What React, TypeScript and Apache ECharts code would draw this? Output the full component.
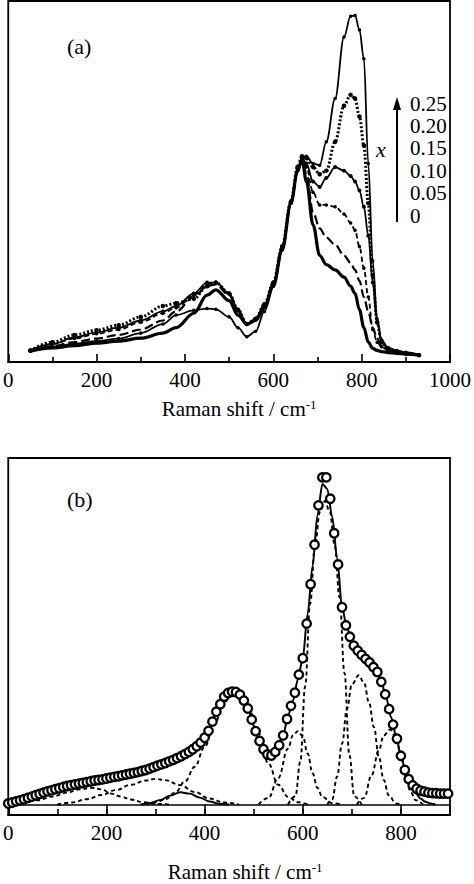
import React, { useEffect, useRef } from "react";
import * as echarts from "echarts";

// ---------- Panel (a): Raman spectra for several x ----------
const shiftA = [50, 100, 150, 200, 250, 300, 350, 380, 420, 450, 470, 500, 520, 540, 560, 580, 600, 620, 640, 655, 665, 675, 690, 705, 720, 740, 760, 775, 785, 795, 805, 815, 825, 835, 845, 860, 880, 900, 930];
const specX000 = [3.0, 3.9, 4.5, 5.2, 5.8, 6.6, 8.0, 9.5, 13.5, 18.5, 20.0, 17.0, 13.0, 10.5, 11.5, 15.0, 21.0, 31.0, 44.0, 53.0, 56.0, 50.0, 38.0, 29.5, 27.0, 25.5, 23.5, 21.0, 19.0, 14.5, 9.5, 5.5, 3.8, 3.2, 2.9, 2.6, 2.4, 2.2, 1.9];
const specX005 = [3.0, 4.4, 5.5, 6.5, 7.5, 9.0, 11.5, 14.0, 18.0, 21.0, 21.5, 18.5, 14.0, 10.5, 11.5, 15.0, 21.0, 31.0, 44.0, 53.0, 56.0, 52.0, 41.5, 37.0, 34.5, 32.5, 29.5, 27.5, 25.5, 22.5, 18.0, 14.0, 9.5, 6.5, 4.5, 3.3, 2.7, 2.3, 1.9];
const specX010 = [3.2, 5.0, 6.5, 7.8, 9.0, 11.0, 13.5, 15.0, 18.5, 21.5, 22.0, 19.0, 14.5, 10.5, 11.8, 15.5, 21.5, 31.5, 44.0, 53.0, 56.0, 54.0, 47.0, 43.5, 43.5, 43.0, 41.0, 38.5, 36.5, 32.0, 26.0, 18.0, 9.0, 5.5, 4.2, 3.3, 2.7, 2.3, 1.9];
const specX015 = [3.2, 5.0, 6.8, 8.2, 9.5, 11.5, 14.0, 15.5, 19.0, 22.0, 22.0, 19.0, 14.5, 10.5, 12.0, 16.0, 22.0, 32.0, 44.5, 53.5, 56.5, 55.0, 50.0, 48.5, 51.0, 54.0, 53.0, 51.5, 50.0, 47.5, 43.0, 35.0, 22.0, 11.0, 6.0, 3.4, 2.7, 2.3, 1.9];
const specX020 = [3.2, 5.5, 7.5, 8.8, 10.2, 12.5, 15.5, 16.3, 17.5, 21.0, 22.0, 19.0, 14.5, 10.5, 12.0, 16.0, 22.0, 32.0, 44.5, 54.0, 57.0, 56.5, 54.0, 52.0, 53.0, 61.0, 71.0, 74.0, 73.0, 68.0, 60.0, 44.0, 24.0, 11.0, 5.5, 3.6, 2.8, 2.4, 1.9];
const specX025 = [3.0, 4.2, 5.0, 5.8, 6.5, 8.0, 10.5, 13.0, 14.3, 14.8, 14.6, 12.5, 9.5, 7.0, 8.5, 14.0, 21.0, 31.0, 44.0, 53.0, 56.5, 57.0, 55.0, 54.5, 61.0, 73.0, 90.0, 95.8, 96.0, 92.0, 84.0, 55.0, 28.0, 12.0, 6.0, 4.0, 3.2, 2.7, 2.0];
const legendLabels = ["0.25", "0.20", "0.15", "0.10", "0.05", "0"];
const ticksA = [0, 200, 400, 600, 800, 1000];

// ---------- Panel (b): measured spectrum + fitted components ----------
const shiftB = [
  0, 8, 16, 24, 32, 40, 48, 56, 64, 72,
  80, 88, 96, 104, 112, 120, 128, 136, 144, 152,
  160, 168, 176, 184, 192, 200, 208, 216, 224, 232,
  240, 248, 256, 264, 272, 280, 288, 296, 304, 312,
  320, 328, 336, 344, 352, 360, 368, 376, 384, 392,
  400, 408, 416, 424, 432, 440, 448, 456, 464, 472,
  480, 488, 496, 504, 512, 520, 528, 536, 544, 552,
  560, 568, 576, 584, 592, 600, 608, 616, 624, 632,
  640, 648, 656, 664, 672, 680, 688, 696, 704, 712,
  720, 728, 736, 744, 752, 760, 768, 776, 784, 792,
  800, 808, 816, 824, 832, 840, 848, 856, 864, 872,
  880, 888, 896,
];
const measured = [
  0.3, 0.6, 0.95, 1.25, 1.6, 2.0, 2.4, 2.8, 3.2, 3.6,
  4.0, 4.3, 4.65, 4.95, 5.3, 5.6, 5.85, 6.1, 6.35, 6.55,
  6.8, 7.05, 7.3, 7.45, 7.65, 7.9, 8.15, 8.4, 8.6, 8.85,
  9.1, 9.35, 9.6, 9.85, 10.2, 10.5, 10.9, 11.35, 11.8, 12.2,
  12.6, 13.1, 13.55, 14.1, 14.65, 15.3, 16.0, 16.8, 17.7, 18.8,
  20.3, 22.4, 25.2, 28.2, 30.5, 32.8, 33.9, 34.3, 34.2, 33.4,
  31.6, 29.2, 25.8, 22.3, 19.3, 16.8, 15.2, 14.9, 16.0, 18.0,
  21.0, 26.0, 30.0, 34.0, 39.5, 44.5, 55.0, 67.0, 79.0, 91.0,
  99.5, 99.5, 93.0, 82.5, 73.0, 60.0, 54.5, 51.0, 48.3, 46.8,
  45.5, 44.3, 43.2, 41.8, 40.3, 37.3, 33.5, 29.0, 24.3, 20.0,
  14.8, 10.5, 7.7, 5.8, 4.8, 4.2, 3.9, 3.6, 3.45, 3.4,
  3.3, 3.3, 3.3,
];
const fitShift = [0, 10, 20, 30, 40, 50, 60, 70, 80, 90, 100, 110, 120, 130, 140, 150, 160, 170, 180, 190, 200, 210, 220, 230, 240, 250, 260, 270, 280, 290, 300, 310, 320, 330, 340, 350, 360, 370, 380, 390, 400, 410, 420, 430, 440, 450, 460, 470, 480, 490, 500, 510, 520, 530, 540, 550, 560, 570, 580, 590, 600, 610, 620, 630, 640, 650, 660, 670, 680, 690, 700, 710, 720, 730, 740, 750, 760, 770, 780, 790, 800, 810, 820, 830, 840, 850, 860, 870];
const fitted = [0.3, 0.7, 1.1, 1.5, 2.0, 2.5, 3.0, 3.5, 4.0, 4.4, 4.8, 5.2, 5.6, 5.9, 6.2, 6.5, 6.8, 7.1, 7.4, 7.6, 7.9, 8.2, 8.5, 8.8, 9.1, 9.4, 9.7, 10.1, 10.5, 11.0, 11.6, 12.1, 12.6, 13.2, 13.8, 14.5, 15.3, 16.2, 17.2, 18.5, 20.3, 23.0, 26.8, 30.0, 32.8, 34.1, 34.3, 33.6, 31.6, 28.5, 24.0, 20.0, 16.8, 14.9, 15.4, 17.4, 21.0, 27.0, 31.5, 38.0, 44.5, 58.0, 72.5, 88.0, 97.5, 96.0, 87.5, 75.0, 60.0, 53.8, 49.5, 47.0, 45.5, 44.0, 42.5, 40.8, 37.3, 32.5, 26.5, 21.0, 14.8, 9.8, 5.6, 3.4, 1.8, 0.8, 0.3, 0];
const compAX = [0, 30, 60, 90, 120, 145, 170, 190, 210, 230, 250, 275, 300, 330];
const compAY = [0.2, 0.6, 1.3, 2.4, 3.6, 4.6, 5.1, 4.6, 3.3, 2.4, 1.5, 0.7, 0.2, 0];
const compBX = [100, 130, 160, 190, 220, 250, 280, 300, 320, 350, 380, 410, 440, 470];
const compBY = [0, 0.6, 1.6, 2.9, 4.4, 6.0, 7.3, 7.8, 7.4, 5.9, 3.8, 1.8, 0.6, 0];
const compCX = [270, 290, 310, 330, 350, 370, 390, 410, 430, 450];
const compCY = [0, 0.5, 1.4, 2.7, 3.7, 3.3, 2.1, 0.9, 0.2, 0];
const compDX = [280, 300, 320, 340, 360, 380, 400, 420, 440, 455, 470, 490, 510, 530, 550, 570, 590, 610];
const compDY = [0.1, 0.6, 1.6, 3.6, 7.0, 11.5, 17.5, 24.5, 31.0, 34.0, 33.6, 29.0, 21.5, 12.5, 6.0, 2.3, 0.7, 0];
const compEX = [510, 530, 550, 570, 580, 590, 600, 610, 620, 630, 640, 660, 680];
const compEY = [0, 2, 8, 17, 21, 22.3, 20.8, 15.5, 9.5, 5, 2.3, 0.4, 0];
const compFX = [570, 585, 595, 605, 615, 625, 635, 645, 655, 665, 675, 685, 695, 705, 720];
const compFY = [0, 2.5, 13, 36, 61, 79, 89, 92.3, 89, 79, 63, 40, 15, 2.5, 0];
const compGX = [650, 660, 670, 680, 690, 700, 714, 725, 735, 745, 755, 765, 775, 790, 800];
const compGY = [0, 1.5, 8.5, 18.5, 29, 36.5, 39.3, 37, 31, 23.5, 14.5, 7.5, 2.8, 0.3, 0];
const compHX = [710, 725, 740, 755, 765, 778, 790, 800, 810, 820, 830, 845];
const compHY = [0, 2, 8.8, 16.5, 21, 22.8, 20.5, 14.5, 8.5, 3.8, 1.3, 0];

const FONT = "Liberation Serif";

const pairs = (xs: number[], ys: number[]) => ys.map((y, i) => [xs[i], y]);

export default function App() {
  const ref = useRef<HTMLDivElement>(null);
  useEffect(() => {
    if (!ref.current) return;
    const chart = echarts.init(ref.current, undefined, { renderer: "svg" });

    const axisName = {
      fontFamily: FONT,
      fontSize: 21,
      color: "#000",
      lineHeight: 22,
      rich: {
        sup: { fontFamily: FONT, fontSize: 13, color: "#000", verticalAlign: "top", lineHeight: 14 },
      },
    };
    const labelStyle = { fontFamily: FONT, fontSize: 21, color: "#000", margin: 7 };
    const axisLine = { show: true, onZero: false, lineStyle: { color: "#000", width: 1.8 } };

    const topLine = (name: string, data: number[], lineStyle: any, symbolSize: number) => ({
      type: "line",
      name,
      xAxisIndex: 0,
      yAxisIndex: 0,
      data: pairs(shiftA, data),
      smooth: 0.35,
      smoothMonotone: "x",
      showSymbol: symbolSize > 0,
      symbol: "circle",
      symbolSize: symbolSize || 1,
      itemStyle: { color: "#000" },
      lineStyle: { color: "#000", ...lineStyle },
    });

    const comp = (name: string, xs: number[], ys: number[], solid = false) => ({
      type: "line",
      name,
      xAxisIndex: 1,
      yAxisIndex: 1,
      data: pairs(xs, ys),
      smooth: 0.4,
      smoothMonotone: "x",
      showSymbol: false,
      lineStyle: { color: "#000", width: 1.9, type: solid ? "solid" : [4, 3] },
    });

    const legendGraphics: any[] = legendLabels.map((t, i) => ({
      type: "text",
      left: 410,
      top: 93 + i * 22.4,
      style: { text: t, fontFamily: FONT, fontSize: 21, fill: "#000" },
    }));

    chart.setOption({
      animation: false,
      backgroundColor: "#fff",
      grid: [
        { left: 7, top: 1, width: 443, height: 361, show: true, borderColor: "#000", borderWidth: 1.8, backgroundColor: "transparent" },
        { left: 7, top: 458, width: 443, height: 362, show: true, borderColor: "#000", borderWidth: 1.8, backgroundColor: "transparent" },
      ],
      xAxis: [
        {
          type: "value",
          gridIndex: 0,
          min: ticksA[0],
          max: ticksA[ticksA.length - 1],
          interval: 200,
          axisLine,
          axisTick: { show: true, inside: true, length: 8, lineStyle: { color: "#000", width: 1.6 } },
          minorTick: { show: true, splitNumber: 2, length: 5, lineStyle: { color: "#000", width: 1.6 } },
          splitLine: { show: false },
          axisLabel: { ...labelStyle, formatter: (v: number) => String(v) },
          name: "Raman shift / cm{sup|-1}",
          nameLocation: "middle",
          nameGap: 36,
          nameTextStyle: { ...axisName, padding: [0, 0, 0, 20] },
        },
        {
          type: "value",
          gridIndex: 1,
          min: 0,
          max: 900,
          interval: 100,
          axisLine,
          axisTick: { show: true, inside: true, length: 6, lineStyle: { color: "#000", width: 1.6 } },
          splitLine: { show: false },
          axisLabel: { ...labelStyle, formatter: (v: number) => (v % 200 === 0 && v < 900 ? String(v) : "") },
          name: "Raman shift / cm{sup|-1}",
          nameLocation: "middle",
          nameGap: 46,
          nameTextStyle: { ...axisName, padding: [0, 0, 0, 32] },
        },
        {
          type: "value",
          gridIndex: 1,
          min: 0,
          max: 900,
          interval: 200,
          axisLine: { show: false },
          axisTick: { show: true, inside: true, length: 9, lineStyle: { color: "#000", width: 1.6 } },
          splitLine: { show: false },
          axisLabel: { show: false },
        },
      ],
      yAxis: [
        { type: "value", gridIndex: 0, min: 0, max: 100, show: false, splitLine: { show: false } },
        { type: "value", gridIndex: 1, min: -3.2, max: 105.4, show: false, splitLine: { show: false } },
      ],
      series: [
        topLine("x = 0", specX000, { width: 3.2, type: "solid" }, 0),
        topLine("x = 0.05", specX005, { width: 2.2, type: [9, 4] }, 0),
        topLine("x = 0.10", specX010, { width: 1.8, type: [5, 3] }, 3.5),
        topLine("x = 0.15", specX015, { width: 1.8, type: "solid" }, 4),
        topLine("x = 0.20", specX020, { width: 3, type: [2, 2] }, 4.5),
        topLine("x = 0.25", specX025, { width: 1.8, type: "solid" }, 3.5),
        comp("band 1", compAX, compAY),
        comp("band 2", compBX, compBY),
        comp("band 3", compCX, compCY, true),
        comp("band 4", compDX, compDY),
        comp("band 5", compEX, compEY),
        comp("band 6", compFX, compFY),
        comp("band 7", compGX, compGY),
        comp("band 8", compHX, compHY),
        {
          type: "line",
          name: "fit",
          xAxisIndex: 1,
          yAxisIndex: 1,
          data: pairs(fitShift, fitted),
          smooth: 0.3,
          smoothMonotone: "x",
          showSymbol: false,
          lineStyle: { color: "#000", width: 2 },
          markLine: {
            silent: true,
            symbol: ["none", "none"],
            label: { show: false },
            lineStyle: { color: "#000", width: 1.6, type: "solid" },
            data: [{ yAxis: 0 }],
          },
        },
        {
          type: "scatter",
          name: "measured",
          xAxisIndex: 1,
          yAxisIndex: 1,
          data: pairs(shiftB, measured),
          symbol: "circle",
          symbolSize: 8.5,
          itemStyle: { color: "#fff", borderColor: "#000", borderWidth: 2.3, opacity: 1 },
          z: 5,
        },
      ],
      graphic: [
        { type: "text", left: 67, top: 35, style: { text: "(a)", fontFamily: FONT, fontSize: 22, fill: "#000" } },
        { type: "text", left: 67, top: 488, style: { text: "(b)", fontFamily: FONT, fontSize: 22, fill: "#000" } },
        { type: "line", shape: { x1: 397, y1: 222, x2: 397, y2: 106 }, style: { stroke: "#000", lineWidth: 2 } },
        { type: "polygon", shape: { points: [[393, 110], [401, 110], [397, 97]] }, style: { fill: "#000" } },
        { type: "text", left: 376, top: 138, style: { text: "x", fontFamily: FONT, fontSize: 22, fontStyle: "italic", fill: "#000" } },
        ...legendGraphics,
      ],
    });
    return () => chart.dispose();
  }, []);
  return <div ref={ref} style={{ position: "fixed", left: 0, top: 0, width: 474, height: 884, background: "#fff" }} />;
}
